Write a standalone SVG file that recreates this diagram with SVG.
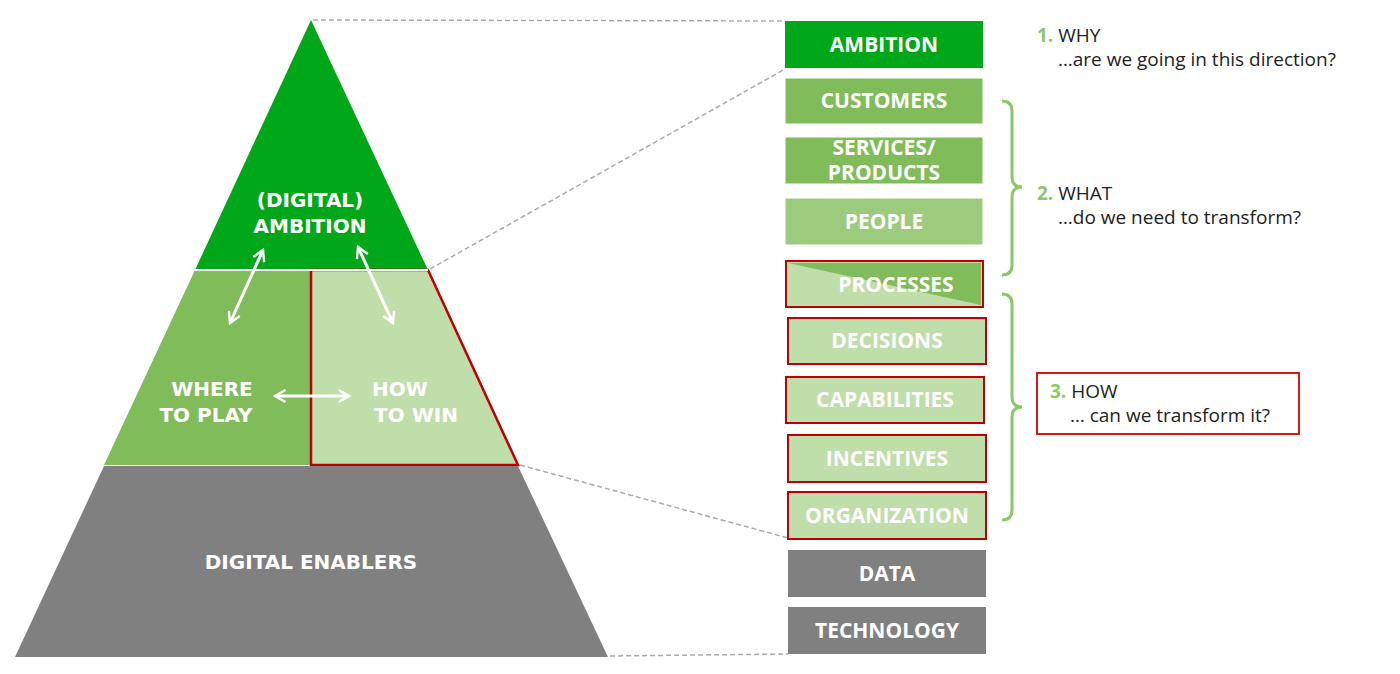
<svg xmlns="http://www.w3.org/2000/svg" width="1400" height="674" viewBox="0 0 1400 674">
<style>
.t{font-family:"Open Sans","Liberation Sans",sans-serif;font-weight:bold;fill:#fff;text-anchor:middle}
.bt{font-size:21px}
.pt{font-family:"DejaVu Sans","Liberation Sans",sans-serif;font-size:20px}
.r{font-family:"Open Sans","Liberation Sans",sans-serif;font-size:19px;fill:#222}
.n{fill:#8BC867;font-weight:bold}
.d{stroke:#aaa;stroke-width:1.5;stroke-dasharray:5,3;fill:none}
.br{stroke:#8BC867;stroke-width:3;fill:none}
.ar{stroke:#fff;stroke-width:3;fill:none;marker-start:url(#h);marker-end:url(#h)}
</style>
<defs>
<marker id="h" viewBox="0 0 10 10" refX="8" refY="5" markerWidth="5" markerHeight="5" orient="auto-start-reverse" markerUnits="strokeWidth"><path d="M1,1 L8,5 L1,9" fill="none" stroke="#fff" stroke-width="1.6"/></marker>
</defs>
<g id="pyramid">
<polygon points="311,20 195,270 428,270" fill="#00A819"/>
<polygon points="195,270 310,270 310,465 104,465" fill="#80BC5A"/>
<polygon points="311,270 428,270 518,465 311,465" fill="#C0DEAA" stroke="#C00000" stroke-width="2.5"/>
<polygon points="104,466 518,466 608,657 15,657" fill="#808080"/>
<line x1="195" y1="270" x2="428" y2="270" stroke="#fff" stroke-width="2"/>
<text class="t pt" x="310" y="207">(DIGITAL)</text>
<text class="t pt" x="310" y="233">AMBITION</text>
<text class="t pt" x="212" y="396">WHERE</text>
<text class="t pt" x="206" y="422">TO PLAY</text>
<text class="t pt" x="400" y="396">HOW</text>
<text class="t pt" x="416" y="422">TO WIN</text>
<text class="t pt" x="311" y="569">DIGITAL ENABLERS</text>
</g>
<g id="connectors">
<line class="d" x1="313" y1="20" x2="785" y2="21"/>
<line class="d" x1="430" y1="269" x2="785" y2="69"/>
<line class="d" x1="520" y1="465" x2="788" y2="538"/>
<line class="d" x1="610" y1="656" x2="788" y2="654"/>
<line class="ar" x1="263" y1="250" x2="230" y2="323"/>
<line class="ar" x1="358" y1="247" x2="393" y2="323"/>
<line class="ar" x1="275" y1="396" x2="349" y2="396"/>
<path class="br" d="M1002,101 Q1012,101 1012,111 L1012,177 Q1012,187 1022,187 Q1012,187 1012,197 L1012,265 Q1012,275 1002,275"/>
<path class="br" d="M1002,294 Q1012,294 1012,304 L1012,397 Q1012,407 1022,407 Q1012,407 1012,417 L1012,510 Q1012,520 1002,520"/>
</g>
<g id="boxes">
<rect x="785" y="21" width="198" height="47" fill="#00A819"/>
<text class="t bt" x="884" y="52">AMBITION</text>
<rect x="785" y="78" width="198" height="46" fill="#80BC5A" stroke="#fff"/>
<text class="t bt" x="884" y="108">CUSTOMERS</text>
<rect x="785" y="137" width="198" height="47" fill="#80BC5A" stroke="#fff"/>
<text class="t bt" x="884" y="155">SERVICES/</text>
<text class="t bt" x="884" y="180">PRODUCTS</text>
<rect x="785" y="198" width="198" height="47" fill="#9CCB7E" stroke="#fff"/>
<text class="t bt" x="884" y="229">PEOPLE</text>
<g id="processes">
<rect x="786" y="261" width="197" height="46" fill="#C0DEAA" stroke="#C00000" stroke-width="2"/>
<polygon points="788,263 981,263 981,305" fill="#80BC5A"/>
<text class="t bt" x="896" y="292">PROCESSES</text>
</g>
<rect x="788" y="318" width="198" height="46" fill="#C0DEAA" stroke="#C00000" stroke-width="2"/>
<text class="t bt" x="887" y="348">DECISIONS</text>
<rect x="786" y="377" width="198" height="46" fill="#C0DEAA" stroke="#C00000" stroke-width="2"/>
<text class="t bt" x="885" y="407">CAPABILITIES</text>
<rect x="788" y="435" width="198" height="47" fill="#C0DEAA" stroke="#C00000" stroke-width="2"/>
<text class="t bt" x="887" y="466">INCENTIVES</text>
<rect x="788" y="492" width="198" height="47" fill="#C0DEAA" stroke="#C00000" stroke-width="2"/>
<text class="t bt" x="887" y="523">ORGANIZATION</text>
<rect x="788" y="550" width="198" height="47" fill="#808080"/>
<text class="t bt" x="887" y="581">DATA</text>
<rect x="788" y="607" width="198" height="47" fill="#808080"/>
<text class="t bt" x="887" y="638">TECHNOLOGY</text>
</g>
<g id="labels">
<text class="r" x="1037" y="42"><tspan class="n">1.</tspan> WHY</text>
<text class="r" x="1058" y="66">…are we going in this direction?</text>
<text class="r" x="1037" y="200"><tspan class="n">2.</tspan> WHAT</text>
<text class="r" x="1058" y="224">…do we need to transform?</text>
<rect x="1037" y="373" width="262" height="61" fill="none" stroke="#D00000" stroke-width="1.8"/>
<text class="r" x="1050" y="398"><tspan class="n">3.</tspan> HOW</text>
<text class="r" x="1070" y="422">… can we transform it?</text>
</g>
</svg>
